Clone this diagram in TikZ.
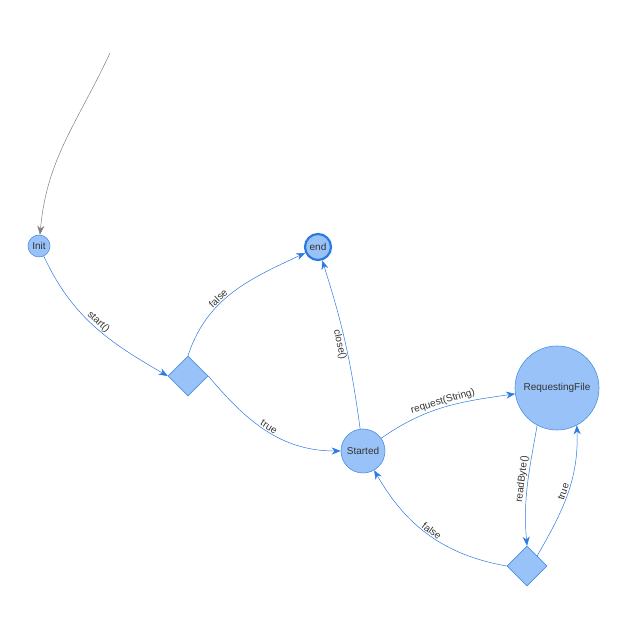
\documentclass[tikz,border=0pt]{standalone}
\usepackage{fontspec}
\setmainfont{Liberation Sans}
\usetikzlibrary{shapes.geometric,arrows.meta}
\definecolor{nfill}{HTML}{99C2F8}
\definecolor{ndraw}{HTML}{4A90E2}
\definecolor{edge}{HTML}{2A7AE2}
\definecolor{txt}{HTML}{333333}
\begin{document}
\begin{tikzpicture}[x=1pt,y=1pt,
  state/.style={circle,fill=nfill,draw=ndraw,line width=0.6pt,inner sep=0pt,text=txt,font=\fontsize{10}{11}\selectfont},
  choice/.style={diamond,fill=nfill,draw=ndraw,line width=0.6pt,minimum size=40pt,inner sep=0pt},
  tr/.style={draw=edge,line width=0.5pt,-{Stealth[length=9pt,width=7pt]}},
  lbl/.style={sloped,text=txt,font=\fontsize{10}{11}\selectfont,inner sep=1pt}]
\useasboundingbox (0,0) rectangle (628,628);
\node[state,minimum size=22pt] (init) at (39,382) {Init};
\node[state,minimum size=26pt,line width=2.2pt,draw=edge] (end) at (318,381) {end};
\node[choice] (d1) at (188,252) {};
\node[state,minimum size=44pt] (started) at (363,177) {Started};
\node[state,minimum size=84pt] (req) at (557,240) {RequestingFile};
\node[choice] (d2) at (527,62) {};
\coordinate (start) at (110,575);
\draw[draw=gray,line width=0.5pt,-{Stealth[length=9pt,width=7pt]}] (start) to[out=-115,in=85] (init);
\draw[tr] (init) to[out=-65,in=150] node[lbl,above,pos=0.5] {start()} (d1.west);
\draw[tr] (d1.north) to[out=72,in=205] node[lbl,above,pos=0.4] {false} (end);
\draw[tr] (d1.east) to[out=-50,in=180] node[lbl,above,pos=0.5] {true} (started);
\draw[tr] (started) to[bend right=5] node[lbl,below,pos=0.5] {close()} (end);
\draw[tr] (started) to[out=35,in=188] node[lbl,above,pos=0.5] {request(String)} (req);
\draw[tr] (req.-118) to[out=-100,in=95] node[lbl,above,pos=0.45] {readByte()} (d2.north);
\draw[tr] (d2.north east) to[out=60,in=-88] node[lbl,above,pos=0.5] {true} (req.-62);
\draw[tr] (d2.west) to[out=170,in=-60] node[lbl,above,pos=0.5] {false} (started);
\end{tikzpicture}
\end{document}
